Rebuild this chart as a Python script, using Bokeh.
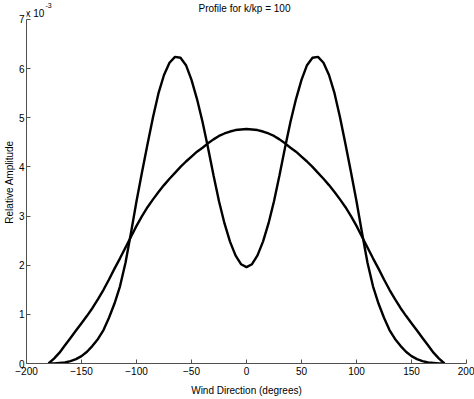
from bokeh.plotting import figure
from bokeh.models import Range1d, FixedTicker, Label
from bokeh.embed import file_html
from bokeh.resources import INLINE

# Wind direction (degrees)
direction = list(range(-180, 185, 5))

# Relative amplitude, in units of 1e-3
broad_amp = [0.00, 0.10, 0.22, 0.37, 0.52, 0.67, 0.82, 0.97, 1.13, 1.31,
             1.50, 1.71, 1.93, 2.14, 2.36, 2.58, 2.80, 3.00, 3.18, 3.34,
             3.49, 3.63, 3.76, 3.88, 4.00, 4.11, 4.21, 4.31, 4.39, 4.48,
             4.56, 4.63, 4.68, 4.72, 4.75, 4.76, 4.77,
             4.76, 4.75, 4.72, 4.68, 4.63, 4.56, 4.48, 4.39, 4.31, 4.21,
             4.11, 4.00, 3.88, 3.76, 3.63, 3.49, 3.34, 3.18, 3.00, 2.80,
             2.58, 2.36, 2.14, 1.93, 1.71, 1.50, 1.31, 1.13, 0.97, 0.82,
             0.67, 0.52, 0.37, 0.22, 0.10, 0.00]

bimodal_amp = [0.00, 0.00, 0.01, 0.02, 0.05, 0.09, 0.15, 0.24, 0.36, 0.50,
               0.68, 0.93, 1.22, 1.57, 2.05, 2.66, 3.30, 3.89, 4.46, 5.01,
               5.50, 5.87, 6.12, 6.24, 6.22, 6.07, 5.77, 5.38, 4.92, 4.39,
               3.83, 3.30, 2.85, 2.48, 2.20, 2.02, 1.96,
               2.02, 2.20, 2.48, 2.85, 3.30, 3.83, 4.39, 4.92, 5.38, 5.77,
               6.07, 6.22, 6.24, 6.12, 5.87, 5.50, 5.01, 4.46, 3.89, 3.30,
               2.66, 2.05, 1.57, 1.22, 0.93, 0.68, 0.50, 0.36, 0.24, 0.15,
               0.09, 0.05, 0.02, 0.01, 0.00, 0.00]

x_ticks = [-200, -150, -100, -50, 0, 50, 100, 150, 200]
y_ticks = [0, 1, 2, 3, 4, 5, 6, 7]

title_text = "Profile for k/kp = 100"
scale_text = "x 10"
scale_exp = "-3"

FONT = "Liberation Sans"
AXIS_COLOR = "#505050"

# frame extends above y=7 so the title and exponent can be drawn inside it
p = figure(width=474, height=399, output_backend="svg", toolbar_location=None,
           x_range=Range1d(-200, 200), y_range=Range1d(0, 7.386),
           min_border_left=26, min_border_right=8, min_border_top=0,
           min_border_bottom=36)

p.outline_line_color = None
p.xgrid.grid_line_color = None
p.ygrid.grid_line_color = None
p.background_fill_color = "white"
p.border_fill_color = "white"

for ax in (p.xaxis[0], p.yaxis[0]):
    ax.axis_line_color = AXIS_COLOR
    ax.axis_line_width = 1
    ax.major_tick_line_color = AXIS_COLOR
    ax.major_tick_in = 4
    ax.major_tick_out = 0
    ax.minor_tick_line_color = None
    ax.major_label_text_font = FONT
    ax.major_label_text_font_size = "10px"
    ax.major_label_text_color = "black"
    ax.axis_label_text_font = FONT
    ax.axis_label_text_font_size = "10px"
    ax.axis_label_text_font_style = "normal"
    ax.axis_label_text_color = "black"

p.xaxis[0].ticker = FixedTicker(ticks=x_ticks)
p.yaxis[0].ticker = FixedTicker(ticks=y_ticks)
p.yaxis[0].bounds = (0, 7)
p.xaxis[0].axis_label = "Wind Direction (degrees)"
p.yaxis[0].axis_label = "Relative Amplitude"
p.xaxis[0].major_label_standoff = 3
p.yaxis[0].major_label_standoff = 2
p.xaxis[0].axis_label_standoff = 7
p.yaxis[0].axis_label_standoff = 1

p.line(direction, broad_amp, line_color="black", line_width=2.4)
p.line(direction, bimodal_amp, line_color="black", line_width=2.4)

p.add_layout(Label(x=0, y=7, x_offset=-2, y_offset=11, text=title_text,
                   text_align="center", text_baseline="alphabetic",
                   text_font=FONT, text_font_size="10px", text_color="black"))
p.add_layout(Label(x=-200, y=7, x_offset=-1, y_offset=6, text=scale_text,
                   text_baseline="alphabetic",
                   text_font=FONT, text_font_size="10px", text_color="black"))
p.add_layout(Label(x=-200, y=7, x_offset=19, y_offset=14, text=scale_exp,
                   text_baseline="alphabetic",
                   text_font=FONT, text_font_size="7px", text_color="black"))

open("out.html", "w").write(file_html(p, INLINE))
